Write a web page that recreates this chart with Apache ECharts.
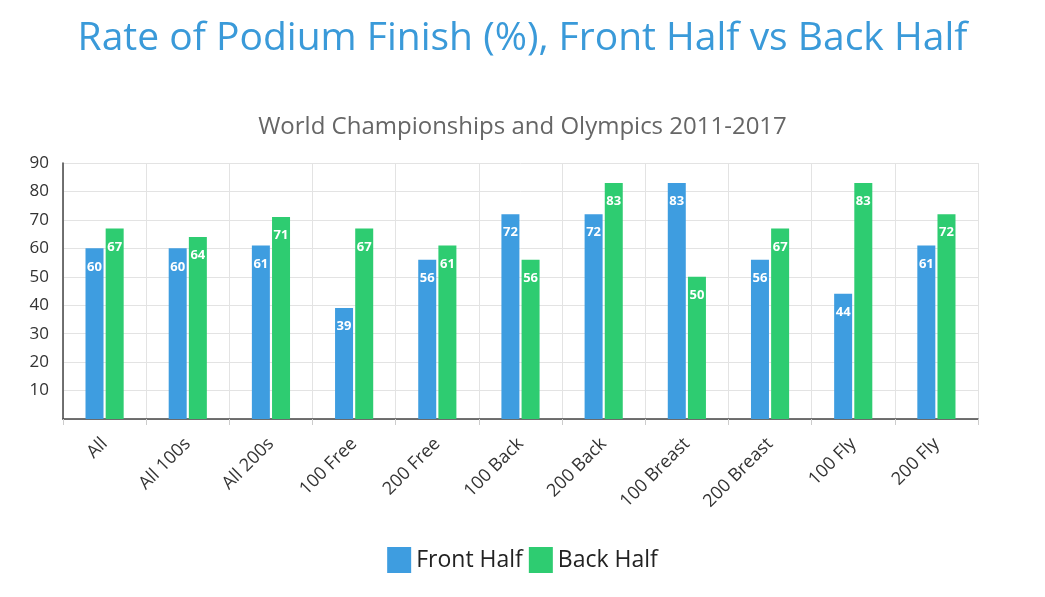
<!DOCTYPE html>
<html>
<head>
<meta charset="utf-8">
<script src="https://cdn.jsdelivr.net/npm/echarts@6/dist/echarts.min.js"></script>
<style>html,body{margin:0;padding:0;background:#fff;}#c{width:1045px;height:597px;}</style>
</head>
<body>
<div id="c"></div>
<script>
const categories = ['All','All 100s','All 200s','100 Free','200 Free','100 Back','200 Back','100 Breast','200 Breast','100 Fly','200 Fly'];
const frontHalf = [60,60,61,39,56,72,72,83,56,44,61];
const backHalf = [67,64,71,67,61,56,83,50,67,83,72];
const yTicks = [0,10,20,30,40,50,60,70,80,90];

const chart = echarts.init(document.getElementById('c'));
const FONT = '"Open Sans", "Noto Sans", sans-serif';
const lbl = {
  show: true, position: 'insideTop', distance: 12, color: '#fff',
  fontWeight: 'bold', fontSize: 13, fontFamily: FONT
};
chart.setOption({
  animation: false,
  textStyle: { fontFamily: FONT },
  title: [
    { text: 'Rate of Podium Finish (%), Front Half vs Back Half', left: 'center', top: 14,
      textStyle: { fontSize: 39, fontWeight: 'normal', color: '#3a9ad9', fontFamily: FONT } },
    { text: 'World Championships and Olympics 2011-2017', left: 'center', top: 110,
      textStyle: { fontSize: 24, fontWeight: 'normal', color: '#666', fontFamily: FONT } }
  ],
  legend: {
    bottom: 19, left: 'center', itemWidth: 24, itemHeight: 26, itemGap: 6, icon: 'rect',
    textStyle: { fontSize: 23, color: '#222', fontFamily: FONT },
    data: ['Front Half','Back Half']
  },
  grid: { left: 63, right: 67, top: 163, bottom: 178 },
  xAxis: {
    type: 'category', data: categories,
    axisLine: { lineStyle: { color: '#444', width: 1.5 } },
    axisTick: { show: true, length: 6, lineStyle: { color: '#ccc' } },
    splitLine: { show: true, lineStyle: { color: '#e3e3e3' } },
    axisLabel: { rotate: 45, fontSize: 18, color: '#333', margin: 22, fontFamily: FONT }
  },
  yAxis: {
    type: 'value', min: yTicks[0], max: yTicks[yTicks.length-1], interval: 10,
    axisLine: { show: true, lineStyle: { color: '#444', width: 1.5 } },
    axisTick: { show: false },
    splitLine: { lineStyle: { color: '#e3e3e3' } },
    axisLabel: { fontSize: 17, color: '#333', margin: 14, showMinLabel: false, fontFamily: FONT }
  },
  series: [
    { name: 'Front Half', type: 'bar', data: frontHalf, barWidth: 18, barGap: '12%',
      itemStyle: { color: '#3e9de0' }, label: lbl },
    { name: 'Back Half', type: 'bar', data: backHalf, barWidth: 18,
      itemStyle: { color: '#2ecc71' }, label: lbl }
  ]
});
</script>
</body>
</html>
